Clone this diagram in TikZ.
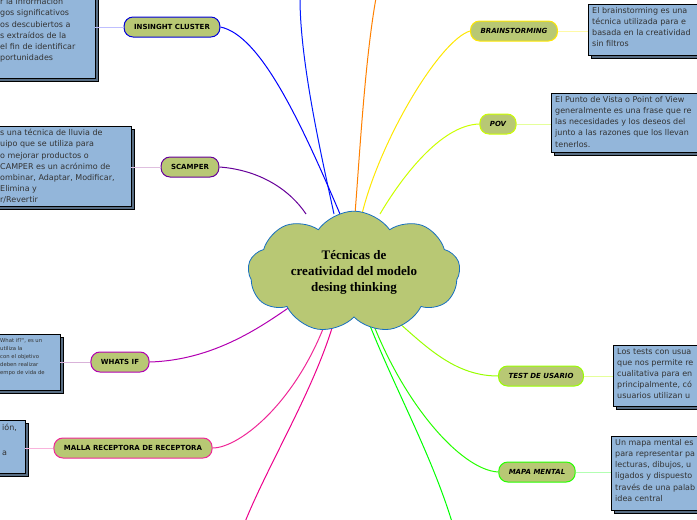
\documentclass[tikz,border=0pt]{standalone}
\usepackage{fontspec}
\setmainfont{Liberation Serif}
\newfontfamily\vfont{DejaVu Sans}
\usetikzlibrary{shapes.symbols}
\definecolor{pillc}{HTML}{B8C874}
\definecolor{boxc}{HTML}{93B6DA}
\definecolor{txtc}{HTML}{333333}
\begin{document}
\begin{tikzpicture}[x=1pt,y=-1pt,
  pill/.style={rounded corners=9pt,fill=pillc,draw=#1,line width=1pt,minimum height=20pt,inner xsep=10pt,font=\vfont\bfseries\fontsize{7}{8}\selectfont},
  ipill/.style={pill=#1,font=\vfont\bfseries\itshape\fontsize{7}{8}\selectfont},
  tbox/.style={fill=boxc,draw=black,line width=1pt},
  shad/.style={fill=boxc!60!black,draw=black,line width=0.8pt},
  btxt/.style={font=\vfont\fontsize{8}{11.2}\selectfont,text=txtc,align=left,inner sep=0pt},
  link/.style={line width=1pt,draw=#1}]
\useasboundingbox (0,0) rectangle (697,520);
\fill[shad] (-5,-5) rectangle (98,81); \filldraw[tbox] (-5,-5) rectangle (95,78);
\node[btxt,anchor=north west] (t1) at (0,-2) {r la información\\gos significativos\\os descubiertos a\\s extraídos de la\\el fin de identificar\\portunidades};
\fill[shad] (-5,129) rectangle (134,209); \filldraw[tbox] (-5,126) rectangle (131,206);
\node[btxt,anchor=north west] (t2) at (0,129) {s una técnica de lluvia de\\uipo que se utiliza para\\o mejorar productos o\\CAMPER es un acrónimo de\\ombinar, Adaptar, Modificar,\\Elimina y\\r/Revertir};
\fill[shad] (-5,337) rectangle (63,393); \filldraw[tbox] (-5,334) rectangle (60,390);
\node[btxt,anchor=north west,font=\vfont\fontsize{5.3}{8}\selectfont] (t3) at (0,338) {What if?", es un\\utiliza la\\con el objetivo\\deben realizar\\empo de vida de};
\fill[shad] (-5,423) rectangle (28,476); \filldraw[tbox] (-5,420) rectangle (25,473);
\node[btxt,anchor=north west] (t4) at (2,424) {ión,\\[2pt]\\a};
\fill[shad] (591,7) rectangle (705,58); \filldraw[tbox] (588,4) rectangle (705,55);
\node[btxt,anchor=north west] (t5) at (592,7) {El brainstorming es una\\técnica utilizada para e\\basada en la creatividad\\sin filtros};
\fill[shad] (554,96) rectangle (705,155); \filldraw[tbox] (551,93) rectangle (705,152);
\node[btxt,anchor=north west] (t6) at (555,96) {El Punto de Vista o Point of View\\generalmente es una frase que re\\las necesidades y los deseos del\\junto a las razones que los llevan\\tenerlos.};
\fill[shad] (616,348) rectangle (705,409); \filldraw[tbox] (613,345) rectangle (705,406);
\node[btxt,anchor=north west] (t7) at (617,348) {Los tests con usua\\que nos permite re\\cualitativa para en\\principalmente, có\\usuarios utilizan u};
\fill[shad] (614,439) rectangle (705,513); \filldraw[tbox] (611,436) rectangle (705,510);
\node[btxt,anchor=north west] (t8) at (615,439) {Un mapa mental es\\para representar pa\\lecturas, dibujos, u\\ligados y dispuesto\\través de una palab\\idea central};
\coordinate (b1) at (95,27); \coordinate (b2) at (131,167); \coordinate (b3) at (60,362); \coordinate (b4) at (25,448);
\coordinate (b5) at (588,31); \coordinate (b6) at (551,124); \coordinate (b7) at (613,376); \coordinate (b8) at (611,472);
\coordinate (u1) at (300,-2); \coordinate (u2) at (376,-2); \coordinate (d1) at (245,522); \coordinate (d2) at (452,522);
\node[pill=blue!85!black] (p1) at (172,27) {INSINGHT CLUSTER};
\node[pill=violet!80!blue] (p2) at (190,167) {SCAMPER};
\node[pill=violet!60!magenta] (p3) at (120,362) {WHATS IF};
\node[pill=magenta!80!pink] (p4) at (133,448) {MALLA RECEPTORA DE RECEPTORA};
\node[ipill=yellow!90!orange] (p5) at (514,31) {BRAINSTORMING};
\node[ipill=lime!80!yellow] (p6) at (498,124) {POV};
\node[ipill=lime!80!green] (p7) at (541,376) {TEST DE USARIO};
\node[ipill=green!80!lime] (p8) at (537,472) {MAPA MENTAL};
\draw[link=blue!25] (p1.west) -- (b1);
\draw[link=violet!25] (p2.west) -- (b2);
\draw[link=violet!30] (p3.west) -- (b3);
\draw[link=magenta!30] (p4.west) -- (b4);
\draw[link=yellow!35] (p5.east) -- (b5);
\draw[link=lime!40] (p6.east) -- (b6);
\draw[link=lime!40] (p7.east) -- (b7);
\draw[link=green!30] (p8.east) -- (b8);
\draw[link=blue!90!cyan] (334,214) .. controls (320,150) and (300,60) .. (u1);
\draw[link=blue] (p1.east) .. controls (260,35) and (300,120) .. (340,214);
\draw[link=orange] (355,214) .. controls (360,150) and (365,60) .. (u2);
\draw[link=yellow!90!orange] (p5.west) .. controls (440,40) and (380,140) .. (362,214);
\draw[link=lime!80!yellow] (p6.west) .. controls (440,125) and (400,180) .. (380,214);
\draw[link=violet!80!blue] (p2.east) .. controls (260,170) and (290,190) .. (306,214);
\draw[link=violet!60!magenta] (p3.east) .. controls (220,360) and (270,320) .. (300,300);
\draw[link=magenta!80!pink] (p4.east) .. controls (240,448) and (300,400) .. (330,310);
\draw[link=magenta] (337,310) .. controls (320,380) and (270,460) .. (d1);
\draw[link=green!80!lime] (p8.west) .. controls (460,470) and (400,400) .. (368,310);
\draw[link=green] (364,310) .. controls (390,380) and (430,450) .. (d2);
\draw[link=lime!80!green] (p7.west) .. controls (450,376) and (420,340) .. (382,308);
\node[cloud,cloud puffs=9,cloud puff arc=110,aspect=2,fill=pillc,draw=cyan!50!blue,line width=0.8pt,minimum width=212pt,minimum height=108pt,align=center,font=\bfseries\fontsize{13}{16}\selectfont] (c) at (354,272) {Técnicas de\\creatividad del modelo\\desing thinking};
\end{tikzpicture}
\end{document}
